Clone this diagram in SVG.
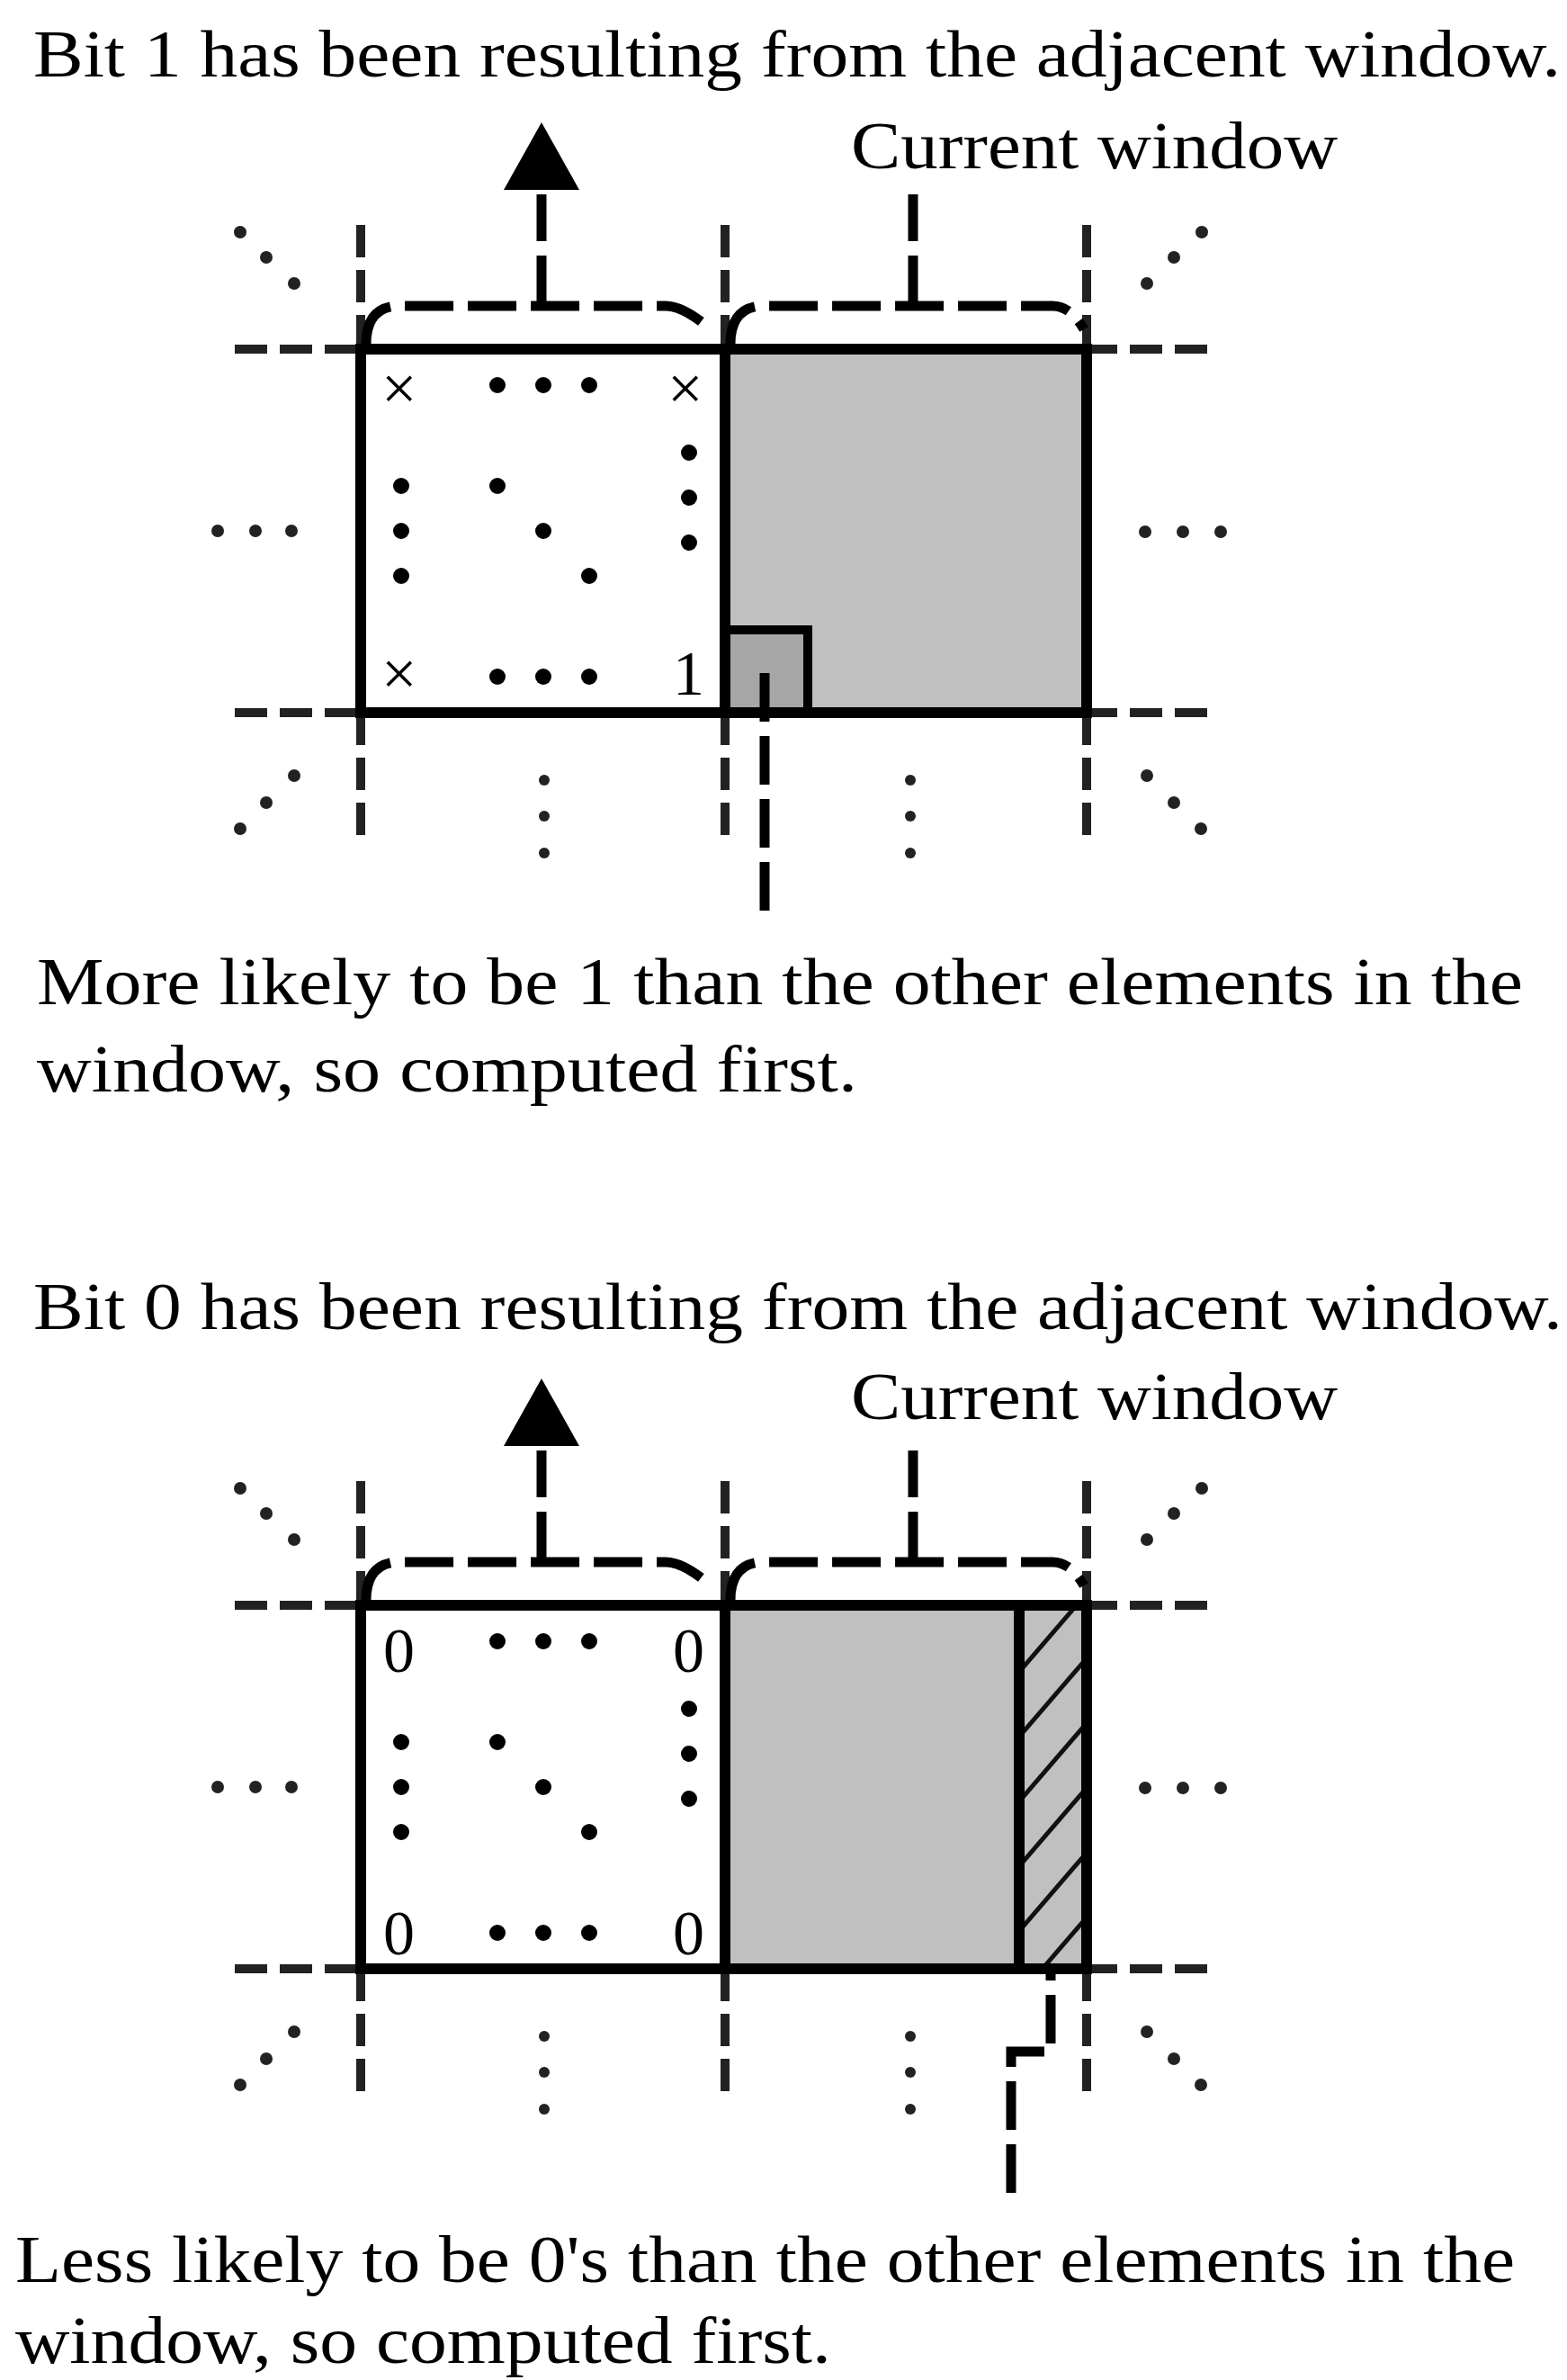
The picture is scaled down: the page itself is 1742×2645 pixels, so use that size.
<svg xmlns="http://www.w3.org/2000/svg" width="1742" height="2645" viewBox="0 0 1742 2645">
<style>
text{font-family:"Liberation Serif","Times New Roman",serif;fill:#000}
.lbl{font-size:74px}
.cell{font-size:70px}
.grid{stroke:#222;stroke-width:10;stroke-dasharray:36 14;fill:none}
.br{stroke:#000;stroke-width:11;stroke-dasharray:54 16;fill:none}
.box{stroke:#000;stroke-width:12;fill:none}
.d{fill:#000}
.o{fill:#222}
</style>
<defs>
<pattern id="hatch" patternUnits="userSpaceOnUse" width="62" height="72" x="1133" y="1786">
<rect width="62" height="72" fill="#c0c0c0"/>
<path d="M0,72 L62,0 M-6,7 L6,-7 M56,79 L68,65" stroke="#111" stroke-width="5"/>
</pattern>
<g id="frame">
<path class="grid" d="M261,388 H401 M1206,388 H1345 M261,792 H401 M1206,792 H1345 M401,250 V388 M806,250 V388 M1208,250 V388 M401,792 V930 M806,792 V930 M1208,792 V930"/>
<g class="o">
<circle cx="267" cy="258" r="7"/><circle cx="296" cy="286" r="7"/><circle cx="327" cy="315" r="7"/>
<circle cx="1336" cy="258" r="7"/><circle cx="1305" cy="286" r="7"/><circle cx="1275" cy="315" r="7"/>
<circle cx="242" cy="590" r="7"/><circle cx="284" cy="590" r="7"/><circle cx="324" cy="590" r="7"/>
<circle cx="1273" cy="591" r="7"/><circle cx="1315" cy="591" r="7"/><circle cx="1357" cy="591" r="7"/>
<circle cx="327" cy="862" r="7"/><circle cx="296" cy="892" r="7"/><circle cx="267" cy="921" r="7"/>
<circle cx="1275" cy="862" r="7"/><circle cx="1305" cy="892" r="7"/><circle cx="1335" cy="921" r="7"/>
<circle cx="605" cy="867" r="6"/><circle cx="605" cy="907" r="6"/><circle cx="605" cy="948" r="6"/>
<circle cx="1012" cy="867" r="6"/><circle cx="1012" cy="907" r="6"/><circle cx="1012" cy="948" r="6"/>
</g>
<g class="d">
<circle cx="553" cy="428" r="9"/><circle cx="604" cy="428" r="9"/><circle cx="655" cy="428" r="9"/>
<circle cx="766" cy="503" r="9"/><circle cx="766" cy="553" r="9"/><circle cx="766" cy="603" r="9"/>
<circle cx="446" cy="540" r="9"/><circle cx="446" cy="590" r="9"/><circle cx="446" cy="640" r="9"/>
<circle cx="553" cy="540" r="9"/><circle cx="604" cy="590" r="9"/><circle cx="655" cy="640" r="9"/>
<circle cx="553" cy="752" r="9"/><circle cx="604" cy="752" r="9"/><circle cx="655" cy="752" r="9"/>
</g>
<g id="connectors-braces">
<path class="br" d="M407,382 Q407,343 440,340 H740 Q760,340 790,366"/>
<path class="br" d="M812,382 Q812,343 845,340 H1170 Q1190,340 1205,366"/>
<path class="br" d="M602,338 V216"/>
<path class="br" d="M1015,338 V216"/>
<path d="M602,136 L644,211 L560,211 Z" fill="#000"/>
</g>
</g>
</defs>

<g id="diagram-top">
<rect x="806" y="388" width="402" height="404" fill="#c0c0c0"/>
<rect x="806" y="700" width="92" height="92" fill="#a6a6a6" stroke="#000" stroke-width="10"/>
<use href="#frame"/>
<rect class="box" x="401" y="388" width="807" height="404"/>
<line x1="806" y1="388" x2="806" y2="792" stroke="#000" stroke-width="12"/>
<g class="cell">
<text x="424" y="455">×</text><text x="742" y="455">×</text>
<text x="424" y="772">×</text><text x="748" y="772">1</text>
</g>
</g>
<g id="connectors">
<path class="br" d="M850,748 V1026"/>
<path class="br" d="M1168,2147 V2280 H1124 V2437"/>
</g>

<g id="diagram-bottom">
<rect x="806" y="1784" width="402" height="404" fill="#c0c0c0"/>
<rect x="1133" y="1784" width="73" height="404" fill="url(#hatch)"/>
<line x1="1133" y1="1784" x2="1133" y2="2188" stroke="#000" stroke-width="12"/>
<use href="#frame" y="1396"/>
<rect class="box" x="401" y="1784" width="807" height="404"/>
<line x1="806" y1="1784" x2="806" y2="2188" stroke="#000" stroke-width="12"/>
<g class="cell">
<text x="426" y="1858">0</text><text x="748" y="1858">0</text>
<text x="426" y="2172">0</text><text x="748" y="2172">0</text>
</g>
</g>

<g id="labels" class="lbl">
<text x="37" y="85" textLength="1698" lengthAdjust="spacingAndGlyphs">Bit 1 has been resulting from the adjacent window.</text>
<text x="946" y="187" textLength="541" lengthAdjust="spacingAndGlyphs">Current window</text>
<text x="41" y="1116" textLength="1652" lengthAdjust="spacingAndGlyphs">More likely to be 1 than the other elements in the</text>
<text x="41" y="1213" textLength="912" lengthAdjust="spacingAndGlyphs">window, so computed first.</text>
<text x="37" y="1477" textLength="1700" lengthAdjust="spacingAndGlyphs">Bit 0 has been resulting from the adjacent window.</text>
<text x="946" y="1577" textLength="541" lengthAdjust="spacingAndGlyphs">Current window</text>
<text x="17" y="2536" textLength="1667" lengthAdjust="spacingAndGlyphs">Less likely to be 0's than the other elements in the</text>
<text x="17" y="2626" textLength="907" lengthAdjust="spacingAndGlyphs">window, so computed first.</text>
</g>
</svg>
